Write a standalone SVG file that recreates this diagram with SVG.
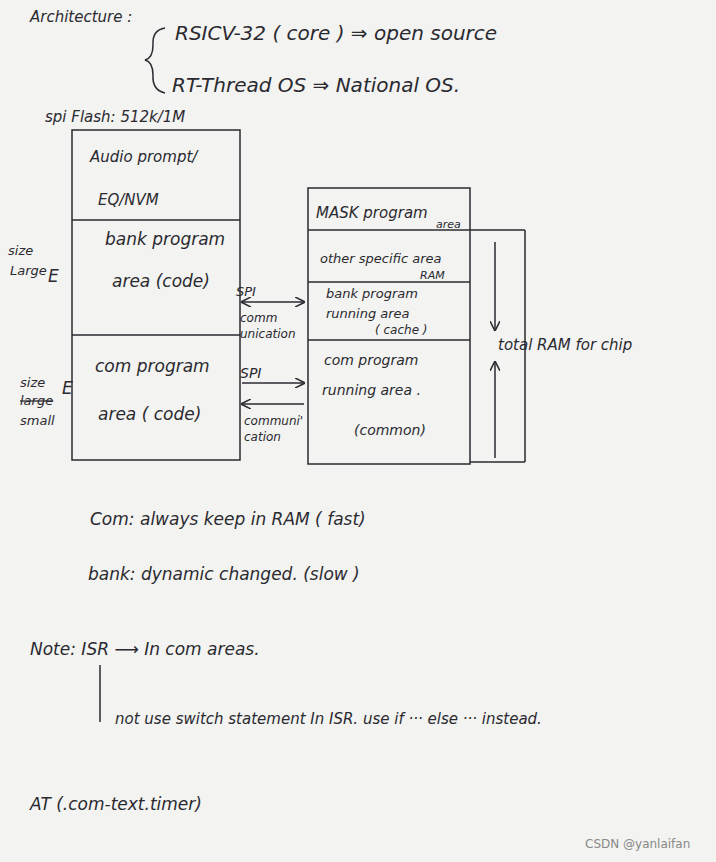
<svg xmlns="http://www.w3.org/2000/svg" width="716" height="862" viewBox="0 0 716 862">
<style>
text{font-family:"DejaVu Sans","Liberation Sans",sans-serif;fill:#2a2a30;font-style:italic}
.s{font-size:15px}.m{font-size:17px}.l{font-size:20px}
.ln{stroke:#2a2a30;stroke-width:1.5;fill:none}
</style>
<defs><marker id="a" viewBox="0 0 10 10" refX="9" refY="5" markerWidth="7" markerHeight="7" orient="auto-start-reverse"><path d="M0,0 L10,5 L0,10" fill="none" stroke="#2a2a30" stroke-width="1.5"/></marker></defs>
<rect width="716" height="862" fill="#f3f3f1"/>
<g id="header">
<text x="30" y="22" class="s">Architecture :</text>
<path class="ln" d="M165,28 Q152,30 153,45 Q153,58 145,60 Q153,62 153,75 Q152,90 165,93"/>
<text x="175" y="40" class="l">RSICV-32 ( core )  ⇒ open source</text>
<text x="172" y="92" class="l">RT-Thread OS   ⇒ National OS.</text>
<text x="45" y="122" class="s">spi Flash: 512k/1M</text>
</g>
<g id="flash">
<rect class="ln" x="72" y="130" width="168" height="330"/>
<line class="ln" x1="72" y1="220" x2="240" y2="220"/>
<line class="ln" x1="72" y1="335" x2="240" y2="335"/>
<text x="90" y="162" class="s">Audio prompt/</text>
<text x="98" y="205" class="s">EQ/NVM</text>
<text x="105" y="245" class="m">bank program</text>
<text x="112" y="287" class="m">area (code)</text>
<text x="95" y="372" class="m">com program</text>
<text x="98" y="420" class="m">area ( code)</text>
</g>
<g id="ram">
<rect class="ln" x="308" y="188" width="162" height="276"/>
<line class="ln" x1="308" y1="230" x2="470" y2="230"/>
<line class="ln" x1="308" y1="282" x2="470" y2="282"/>
<line class="ln" x1="308" y1="340" x2="470" y2="340"/>
<text x="316" y="218" font-size="15">MASK program</text><text x="436" y="228" font-size="11">area</text>
<text x="320" y="263" font-size="13">other specific area</text><text x="420" y="279" font-size="11">RAM</text>
<text x="326" y="298" font-size="13">bank program</text>
<text x="326" y="318" font-size="13">running area</text>
<text x="375" y="334" font-size="12">( cache )</text>
<text x="324" y="365" font-size="14">com program</text>
<text x="322" y="395" font-size="14">running area .</text>
<text x="354" y="435" font-size="14">(common)</text>
</g>
<g id="connectors">
<line class="ln" x1="242" y1="302" x2="304" y2="302" marker-start="url(#a)" marker-end="url(#a)"/>
<text x="236" y="296" font-size="13">SPI</text>
<text x="240" y="322" font-size="12">comm</text>
<text x="240" y="338" font-size="12">unication</text>
<line class="ln" x1="242" y1="383" x2="304" y2="383" marker-end="url(#a)"/>
<text x="240" y="378" font-size="14">SPI</text>
<line class="ln" x1="242" y1="404" x2="304" y2="404" marker-start="url(#a)"/>
<text x="244" y="425" font-size="12">communi'</text>
<text x="244" y="441" font-size="12">cation</text>
<line class="ln" x1="470" y1="230" x2="525" y2="230"/>
<line class="ln" x1="470" y1="462" x2="525" y2="462"/>
<line class="ln" x1="525" y1="230" x2="525" y2="462"/>
<line class="ln" x1="495" y1="242" x2="495" y2="330" marker-end="url(#a)"/>
<line class="ln" x1="495" y1="458" x2="495" y2="362" marker-end="url(#a)"/>
<text x="498" y="350" class="s">total RAM for chip</text>
</g>
<g id="notes">
<text x="8" y="255" font-size="13">size</text>
<text x="10" y="275" font-size="13">Large</text><text x="48" y="282" class="m">E</text>
<text x="20" y="387" font-size="13">size</text><text x="62" y="394" class="m">E</text>
<text x="20" y="405" font-size="13" text-decoration="line-through">large</text>
<text x="20" y="425" font-size="13">small</text>
<text x="90" y="525" class="m">Com: always keep in RAM ( fast)</text>
<text x="88" y="580" class="m">bank: dynamic changed.   (slow )</text>
<text x="30" y="655" class="m">Note:  ISR ⟶ In  com  areas.</text>
<line class="ln" x1="100" y1="665" x2="100" y2="722"/>
<text x="115" y="724" class="s">not use switch statement   In ISR.  use if ··· else ··· instead.</text>
<text x="30" y="810" class="m">AT (.com-text.timer)</text>
<text x="585" y="848" font-size="12" style="font-style:normal;fill:#888">CSDN @yanlaifan</text>
</g>
</svg>
